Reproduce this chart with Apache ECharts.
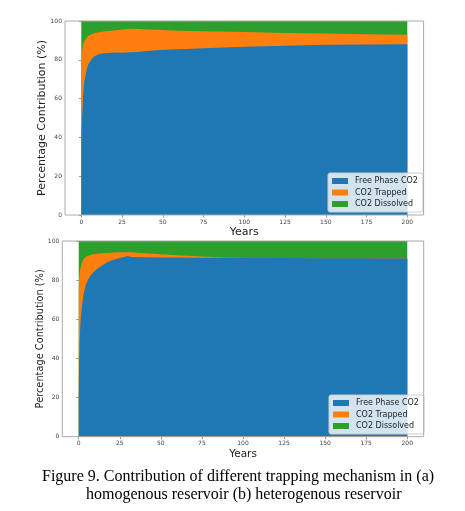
<!DOCTYPE html>
<html>
<head>
<meta charset="utf-8">
<script src="https://cdn.jsdelivr.net/npm/echarts@6/dist/echarts.min.js"></script>
<style>
html,body{margin:0;padding:0;background:#fff;}
#chart{width:465px;height:511px;}
</style>
</head>
<body>
<div id="chart"></div>
<script>
// Series names
var seriesNames = ['Free Phase CO2', 'CO2 Trapped', 'CO2 Dissolved'];
var xTicks = [0, 25, 50, 75, 100, 125, 150, 175, 200];

// (a) homogenous reservoir
var years1     = [0, 0.3, 0.7, 1.2, 1.8, 2.9, 4, 4.9, 6, 8, 11, 13, 16, 20, 25, 30, 35, 40, 50, 60, 75, 100, 125, 150, 175, 200];
var free1      = [40, 46, 54, 62, 68.5, 73.5, 77, 78.5, 80, 81.8, 83, 83.3, 83.5, 83.7, 83.6, 83.9, 84, 84.5, 85.2, 85.5, 86, 86.7, 87.3, 87.7, 87.9, 88];
var trapped1   = [38, 36, 31.5, 26, 21, 17.5, 15, 14.1, 13.2, 12, 11.2, 11.2, 11.3, 11.4, 12, 12.1, 11.9, 11.1, 10.1, 9.5, 8.7, 7.6, 6.5, 5.8, 5.3, 4.9];
var dissolved1 = [22, 18, 14.5, 12, 10.5, 9, 8, 7.4, 6.8, 6.2, 5.8, 5.5, 5.2, 4.9, 4.4, 4, 4.1, 4.4, 4.7, 5, 5.3, 5.7, 6.2, 6.5, 6.8, 7.1];

// (b) heterogenous reservoir
var years2     = [0, 0.2, 0.5, 0.8, 1.2, 2.2, 3, 4.3, 5.5, 7.3, 9, 11.3, 14, 17.4, 20.5, 25, 28, 30, 32, 40, 50, 60, 75, 90, 100, 125, 150, 175, 200];
var free2      = [20, 35, 47, 54, 60, 68.5, 73, 77.5, 80, 82.5, 84, 85.8, 87.4, 89.2, 90.3, 91.3, 91.9, 92.3, 91.8, 91.7, 91.6, 91.6, 91.5, 91.4, 91.4, 91.3, 91.2, 91.2, 91.1];
var trapped2   = [55, 45, 36, 31, 26.5, 21, 17.8, 14.4, 12.4, 10.4, 9.2, 7.7, 6.3, 4.7, 3.8, 2.9, 2.4, 2.0, 2.4, 2.1, 1.6, 1.1, 0.6, 0.2, 0.1, 0, 0, 0, 0];
var dissolved2 = [25, 20, 17, 15, 13.5, 10.5, 9.2, 8.1, 7.6, 7.1, 6.8, 6.5, 6.3, 6.1, 5.9, 5.8, 5.7, 5.7, 5.8, 6.2, 6.8, 7.3, 7.9, 8.4, 8.5, 8.7, 8.8, 8.8, 8.9];

var colors = ['#1f77b4', '#ff7f0e', '#2ca02c'];
var axisFont = 'DejaVu Sans';

// Build stacked (cumulative) layers; each area fills down to 0, drawn top-layer first
function mkSeries(idx, xs, arrs) {
  var cum = [];
  var run = xs.map(function () { return 0; });
  arrs.forEach(function (arr) {
    run = run.map(function (v, i) { return v + arr[i]; });
    cum.push(run.slice());
  });
  return arrs.map(function (arr, k) {
    return {
      name: seriesNames[k],
      type: 'line',
      xAxisIndex: idx,
      yAxisIndex: idx,
      data: xs.map(function (x, i) { return [x, cum[k][i]]; }),
      showSymbol: false,
      symbol: 'none',
      lineStyle: { width: 0 },
      areaStyle: { color: colors[k], opacity: 1 },
      color: colors[k],
      emphasis: { disabled: true },
      z: 2 + (arrs.length - k) * 0.1
    };
  });
}

function mkX(idx) {
  return {
    type: 'value', gridIndex: idx, min: -10, max: 210,
    name: 'Years', nameLocation: 'middle', nameGap: 12,
    nameTextStyle: { fontFamily: axisFont, fontSize: idx === 0 ? 11 : 10.5, color: '#222' },
    axisLine: { show: false },
    splitLine: { show: false },
    axisTick: { show: true, length: 2.5, lineStyle: { color: '#999' }, customValues: xTicks },
    axisLabel: { fontFamily: axisFont, fontSize: 6, color: '#444', margin: 4, customValues: xTicks }
  };
}

function mkY(idx) {
  return {
    type: 'value', gridIndex: idx, min: 0, max: 100, interval: 20,
    name: 'Percentage Contribution (%)', nameLocation: 'middle', nameRotate: 90,
    nameGap: 17, nameMoveOverlap: false,
    nameTextStyle: { fontFamily: axisFont, fontSize: idx === 0 ? 11 : 9.8, color: '#222' },
    axisLine: { show: false },
    splitLine: { show: false },
    axisTick: { show: true, length: 2.5, lineStyle: { color: '#999' } },
    axisLabel: { fontFamily: axisFont, fontSize: 6, color: '#444', margin: 3 }
  };
}

function mkLegend(left, top) {
  return {
    data: seriesNames,
    orient: 'vertical',
    left: left, top: top,
    icon: 'rect',
    itemWidth: 16, itemHeight: 6, itemGap: 1.5,
    padding: [3, 5, 3, 4],
    backgroundColor: 'rgba(255,255,255,0.8)',
    borderColor: '#cccccc', borderWidth: 1, borderRadius: 2,
    textStyle: { fontFamily: axisFont, fontSize: 8, color: '#222', lineHeight: 10, padding: [0, 0, 0, 2] },
    selectedMode: false
  };
}

var chart = echarts.init(document.getElementById('chart'), null, { renderer: 'canvas' });
chart.setOption({
  animation: false,
  backgroundColor: '#ffffff',
  grid: [
    { left: 65, top: 21, width: 358.6, height: 194, show: true, borderColor: '#aaaaaa', borderWidth: 1, backgroundColor: 'transparent', z: 5 },
    { left: 62.3, top: 241, width: 361.4, height: 195.7, show: true, borderColor: '#aaaaaa', borderWidth: 1, backgroundColor: 'transparent', z: 5 }
  ],
  xAxis: [mkX(0), mkX(1)],
  yAxis: [mkY(0), mkY(1)],
  legend: [mkLegend(328, 173), mkLegend(329, 395)],
  series: mkSeries(0, years1, [free1, trapped1, dissolved1])
    .concat(mkSeries(1, years2, [free2, trapped2, dissolved2])),
  graphic: [
    { type: 'text', left: 42, top: 469, style: { text: 'Figure 9. Contribution of different trapping mechanism in (a)', fontFamily: 'Liberation Serif', fontSize: 16, fill: '#000' } },
    { type: 'text', left: 86, top: 487, style: { text: 'homogenous reservoir (b) heterogenous reservoir', fontFamily: 'Liberation Serif', fontSize: 16, fill: '#000' } }
  ]
});
</script>
</body>
</html>
